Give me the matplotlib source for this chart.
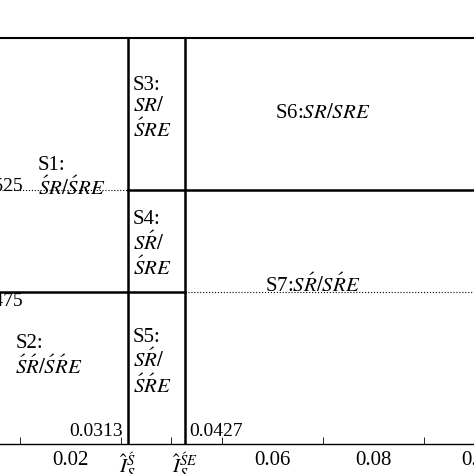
import matplotlib
matplotlib.use("Agg")
import matplotlib.pyplot as plt

plt.rcParams['font.family'] = 'Liberation Serif'
plt.rcParams['mathtext.fontset'] = 'stix'

x_thr = [0.0313, 0.0427]
y_thr = [0.525, 0.475]
xticks_major = [0.02, 0.06, 0.08, 0.1]
xticks_minor = [0.01, 0.02, 0.03, 0.04, 0.05, 0.06, 0.07, 0.08, 0.09]

fig = plt.figure(figsize=(4.74, 4.74), dpi=100)
ax = fig.add_axes([0, 0.063, 1, 0.857])
for s in ['left', 'right']:
    ax.spines[s].set_visible(False)
ax.spines['top'].set_linewidth(1.5)
ax.spines['bottom'].set_linewidth(1.0)

ax.axvline(x_thr[0], color='k', lw=1.8)
ax.axvline(x_thr[1], color='k', lw=1.8)
ax.plot([x_thr[0], 0.2], [y_thr[0]]*2, color='k', lw=1.8)
ax.plot([0.0, x_thr[0]], [y_thr[0]]*2, color='k', lw=0.8, ls=':')
ax.plot([0.0, x_thr[1]], [y_thr[1]]*2, color='k', lw=1.8)
ax.plot([x_thr[1], 0.2], [y_thr[1]]*2, color='k', lw=0.8, ls=':')
ax.set_xlim(0.006, 0.098)
ax.set_ylim(0.4, 0.6)

ax.set_yticks([])
ax.set_xticks(xticks_minor, minor=True)
ax.set_xticks(xticks_major + x_thr)
ax.set_xticklabels(['0.02', '0.06', '0.08', '0.1',
                    r'$\hat{I}_S^{\acute{S}}$', r'$\hat{I}_S^{\acute{S}E}$'], fontsize=15)
ax.tick_params(axis='x', which='major', length=0, pad=5)
ax.tick_params(axis='x', which='minor', length=5, direction='in')

fs = 15
ax.text(0.0303, 0.402, '0.0313', ha='right', va='bottom', fontsize=fs - 1)
ax.text(0.0435, 0.402, '0.0427', ha='left', va='bottom', fontsize=fs - 1)
ax.text(0.0105, 0.527, '0.525', ha='right', va='center', fontsize=fs - 1, clip_on=False)
ax.text(0.0105, 0.470, '0.475', ha='right', va='center', fontsize=fs - 1, clip_on=False)

kw = dict(ha='left', va='center', fontsize=fs, linespacing=1.15)
ax.text(0.0135, 0.531, 'S1:\n' + r'$\acute{S}R/\acute{S}RE$', **kw)
ax.text(0.0090, 0.443, 'S2:\n' + r'$\acute{S}\acute{R}/\acute{S}\acute{R}E$', **kw)
ax.text(0.0323, 0.565, 'S3:\n' + r'$SR/$' + '\n' + r'$\acute{S}RE$', **kw)
ax.text(0.0323, 0.498, 'S4:\n' + r'$S\acute{R}/$' + '\n' + r'$\acute{S}RE$', **kw)
ax.text(0.0323, 0.440, 'S5:\n' + r'$S\acute{R}/$' + '\n' + r'$\acute{S}\acute{R}E$', **kw)
ax.text(0.0700, 0.563, r'S6:$SR/SRE$', ha='center', va='center', fontsize=fs)
ax.text(0.0680, 0.478, r'S7:$S\acute{R}/S\acute{R}E$', ha='center', va='center', fontsize=fs)

fig.savefig('out.png', dpi=100)
